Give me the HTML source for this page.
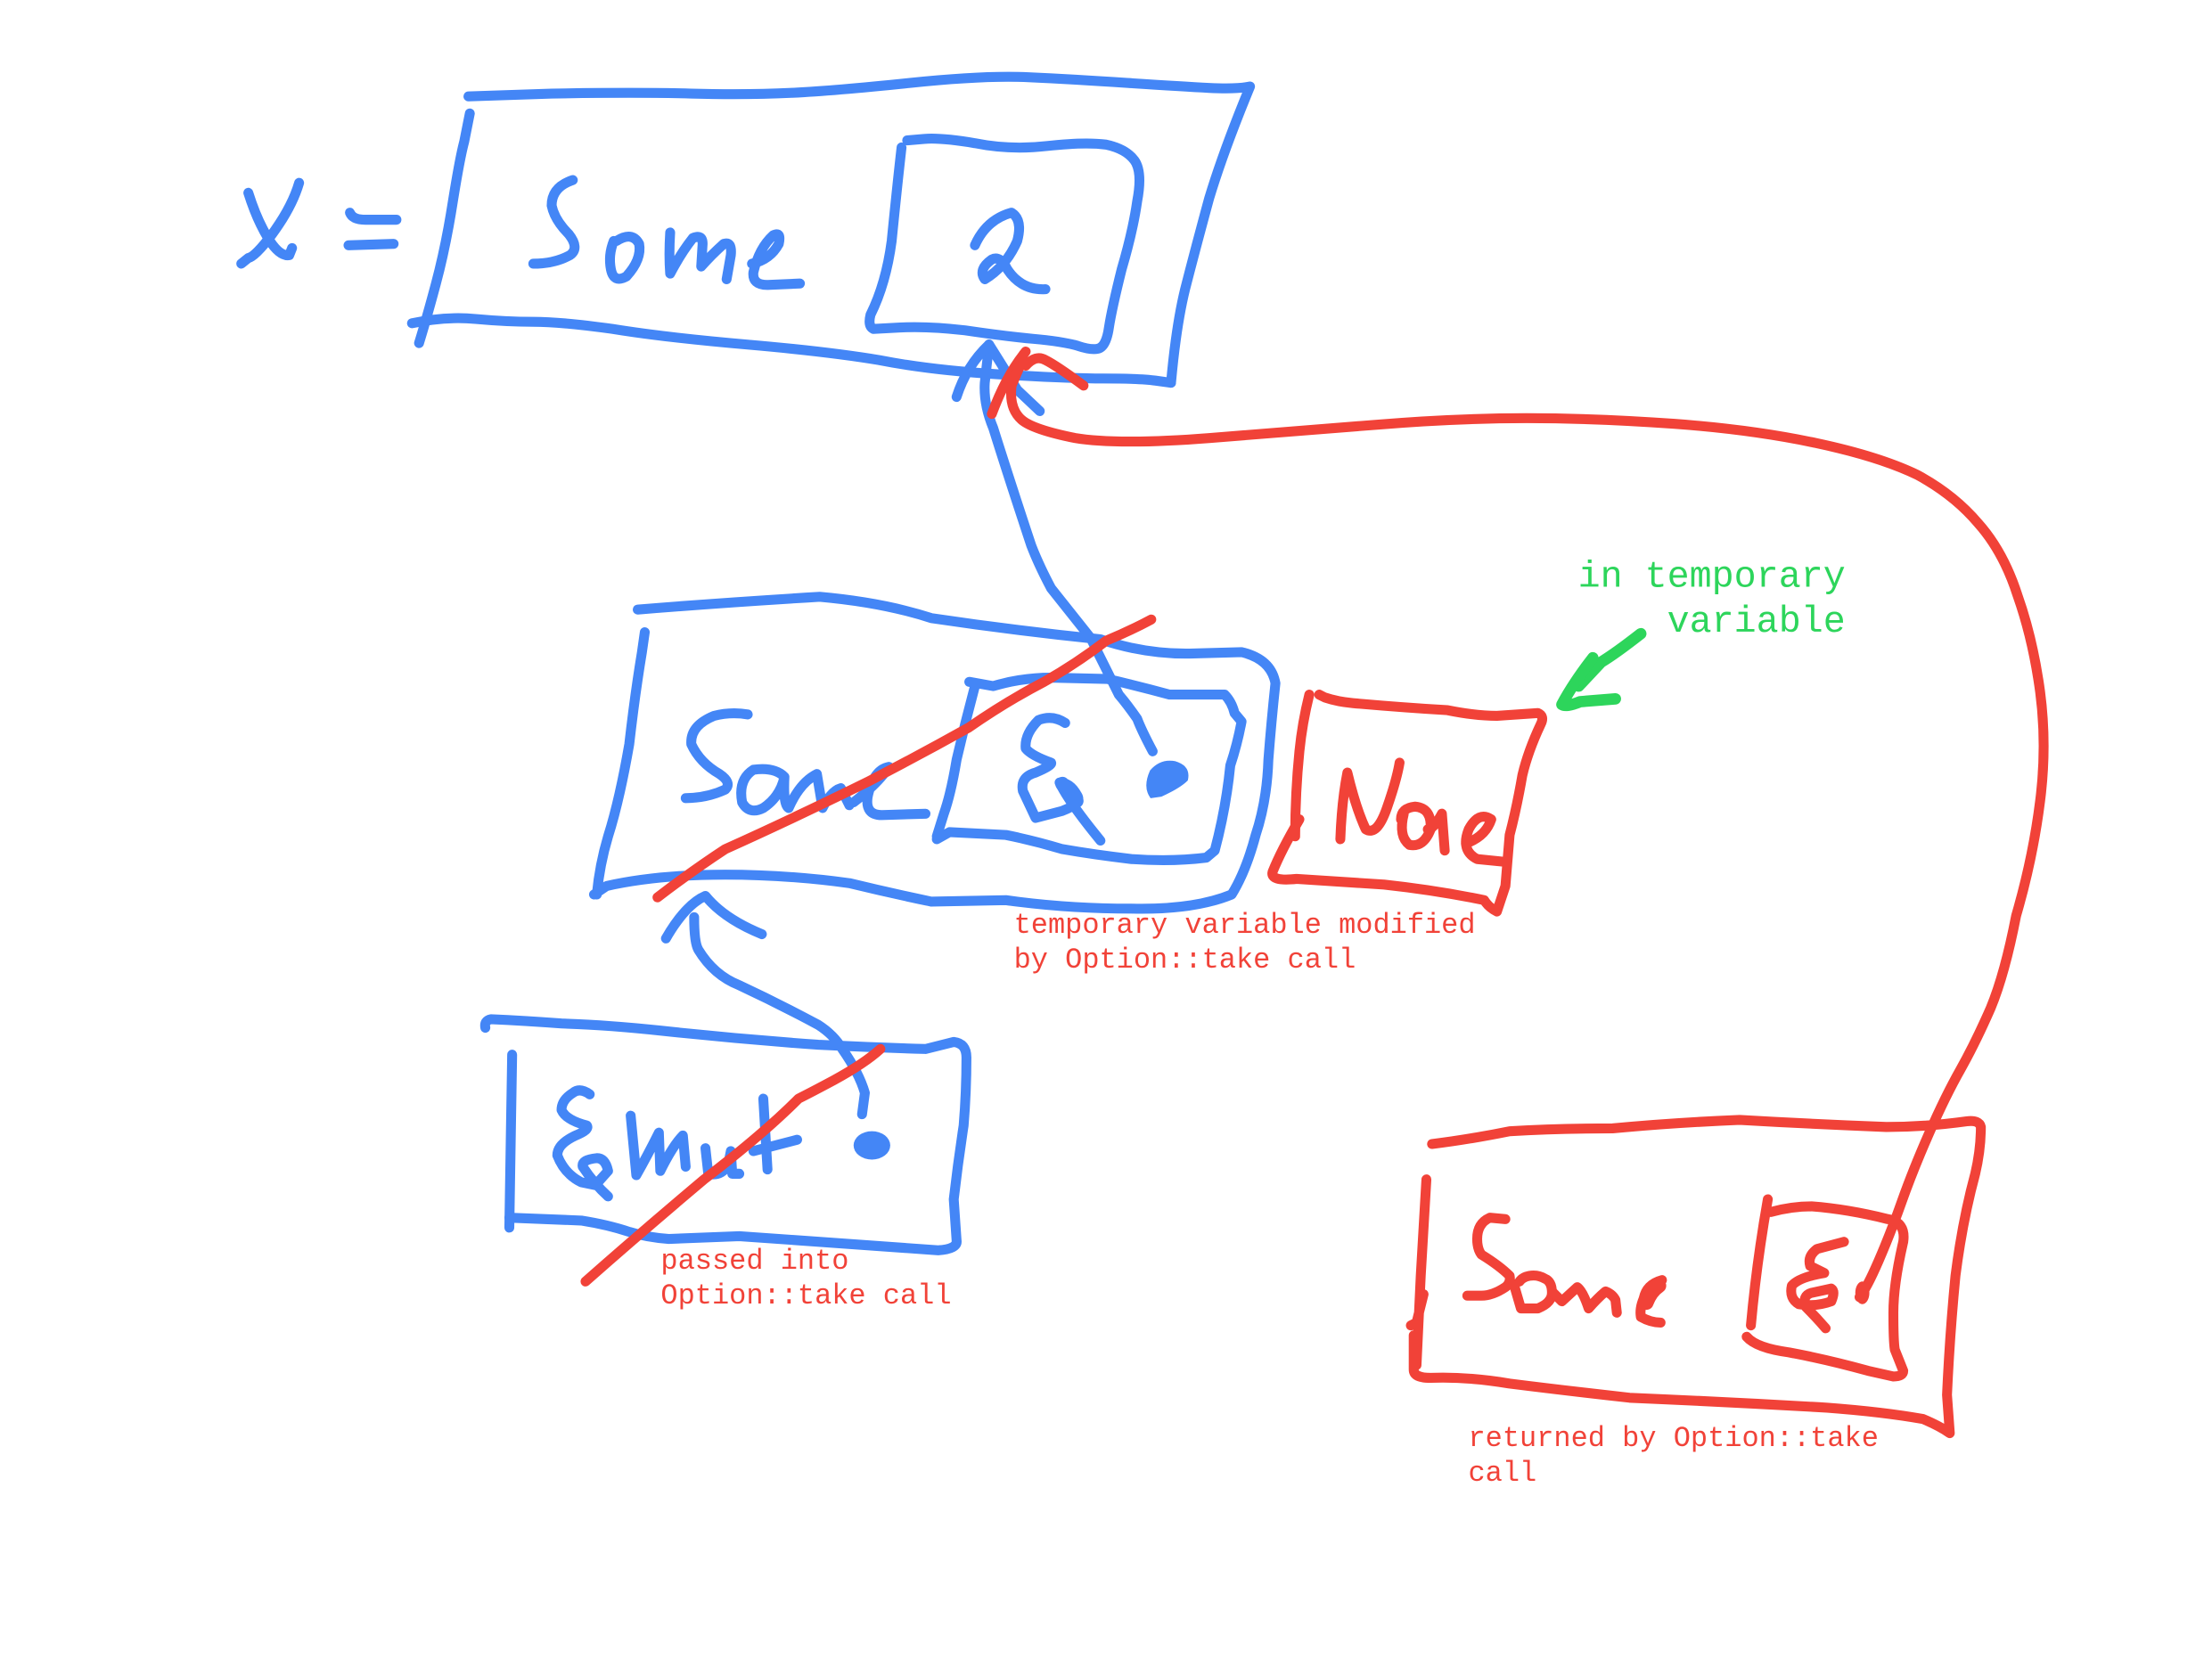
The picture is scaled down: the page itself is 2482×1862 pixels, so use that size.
<!DOCTYPE html>
<html><head><meta charset="utf-8"><style>
html,body{margin:0;padding:0;background:#fff}
svg{display:block;width:2482px;height:1862px}
.b{fill:none;stroke:#4486f6;stroke-width:7;stroke-linecap:round;stroke-linejoin:round}
.r{fill:none;stroke:#f14238;stroke-width:7;stroke-linecap:round;stroke-linejoin:round}
.g{fill:none;stroke:#2dd55b;stroke-width:8;stroke-linecap:round;stroke-linejoin:round}
text{font-family:"Liberation Mono",monospace}
</style></head><body>
<svg xmlns="http://www.w3.org/2000/svg" viewBox="0 0 1560 1170.3">
<rect width="1560" height="1171" fill="#fff"/>
<g transform="translate(1,0) scale(.995,1)">
<g class="b">
<path d="M331 68 L390 66 Q450 65 489 66 Q528 67 560 65.5 Q591 64 644 58.5 Q697 53 728 54.5 Q760 56 798 58.5 Q837 61 856 62 Q876 63 885 61 Q866 107 856 140 Q847 173 840 200 Q833 226 829 270"/>
<path d="M829 270 L818 268.5 Q808 267 781 267 Q755 267 706 264 Q658 261 622 254 Q586 248 528 243 Q470 238 433 232 Q397 227 377 227 Q358 227 336 225 Q315 223 291 228"/>
<path d="M332 80 L328 100 Q325 111 320 142 Q315 174 308 200 Q301 226 296 242"/>
<path transform="translate(3,0)" d="M639 99 L651 98 Q663 97 687 101 Q712 106 738 103 Q765 100 780 102 Q794 105 800 113 Q806 121 802 142 Q799 163 791 190 Q784 218 782 231 Q780 245 774 246 Q769 247 760 244 Q750 241 728 239 Q707 237 680 233 Q654 230 634 231 L615 232 Q611 230 613 222 Q624 200 628 170 Q632 130 635 104"/>
<path d="M175 136 Q181 155 189 168 Q197 181 204 180 L206 175"/>
<path d="M211 129 Q206 146 192 165 Q180 181 175 182 L170 186"/>
<path d="M247 150 Q249 155 258 155 L280 155"/>
<path d="M246 173 L278 172"/>
<path d="M405 127 Q390 132 390 145 Q392 155 402 165 Q410 175 403 180 Q392 186 377 186"/>
<path d="M436 170 Q447 163 452 172 Q454 183 443 195 Q434 200 432 190 Q430 180 434 170"/>
<path d="M474 164 Q473 180 474 193 Q482 178 490 168 Q497 165 497 172 L496 188 Q503 180 512 172 Q518 170 517 180 L514 197"/>
<path d="M532 186 Q545 183 551 172 Q553 163 547 166 Q537 175 533 192 Q532 201 543 201 L566 200"/>
<path d="M690 173 Q698 155 716 150 Q724 155 720 170 Q712 188 697 197 Q692 190 702 183 Q708 180 713 190 Q723 205 740 204"/>
<path d="M816 530 Q808 515 805 507 Q798 497 792 490 Q782 470 772 450 Q752 425 744 415 Q735 398 730 385 Q715 340 703 302 Q696 285 697 270 L700 243"/>
<path d="M677 280 Q684 258 700 243 Q712 262 720 275 L736 290"/>
<path d="M451 430 Q513 425 580 421 Q625 425 659 436 Q720 445 779 451 Q812 462 845 461 L879 460 Q900 465 903 482 Q900 510 898 536 Q897 565 889 589 Q882 615 872 631 Q845 642 801 641 Q755 641 712 635 L659 636 Q630 630 601 623 Q557 617 513 617 Q465 617 429 625 L420 631"/>
<path d="M456 446 L454 460 Q449 490 445 525 Q438 565 430 590 Q424 610 422 631"/>
<path d="M686 481 L703 484 Q723 478 744 478 L784 479 Q806 484 828 490 L867 490 Q872 495 874 503 L879 509 Q876 525 871 540 Q868 570 860 600 L854 605 Q830 608 801 606 Q775 603 752 599 Q732 593 712 589 L672 587 L663 592"/>
<path d="M690 484 Q683 510 677 536 Q673 560 668 574 L663 590"/>
<path d="M529 504 Q517 502 505 505 Q488 512 489 525 Q495 538 509 546 Q518 552 513 557 Q500 563 485 563"/>
<path d="M555 548 Q548 541 533 543 Q522 550 525 566 Q530 575 540 570 Q552 562 555 548 Q554 568 558 570 Q566 552 578 546 L582 570 Q588 558 595 556 L601 568 M604 566 Q622 552 629 541 Q618 543 614 562 Q612 575 624 575 L655 574"/>
<path d="M754 510 Q745 504 735 508 Q725 518 726 528 Q730 533 744 538 Q745 540 733 545 Q722 548 724 558 L733 577 L752 572 Q765 567 763 562 Q758 552 750 552 Q756 565 779 593"/>
<path d="M752 553 L762 565" stroke-width="10"/>
<path d="M471 662 Q485 638 499 632 Q512 648 539 659"/>
<path d="M491 647 Q491 665 494 670 Q505 688 523 695 Q551 708 579 723 Q590 730 596 740 Q608 757 612 771 L610 786"/>
<path d="M343 725 Q342 720 347 719 Q370 720 397 722 Q430 723 467 727 Q523 733 579 737 Q620 739 655 740 L675 735 Q684 736 684 746 Q684 770 682 794 Q678 820 675 846 L677 875 Q678 881 664 882 Q595 877 523 872 L473 874 Q458 873 445 869 Q430 864 411 861 Q385 860 360 859"/>
<path d="M362 744 L361 804 L360 866"/>
<path d="M417 772 Q410 767 405 771 Q397 776 397 783 Q400 790 415 794 Q417 797 407 801 Q394 807 394 815 Q399 828 411 834 L421 836 L430 826 Q428 817 422 817 Q411 818 412 823 Q420 835 430 844"/>
<path d="M446 787 L450 829 Q458 815 466 799 L467 826 Q476 808 483 801 L485 823"/>
<path d="M499 810 L501 828 Q510 830 515 822 L517 812 L518 828 L523 828"/>
<path d="M540 775 L543 825 M533 812 L564 804"/>
</g>
<path d="M815 562 Q810 555 815 544 Q822 536 832 538 Q842 541 840 550 Q835 555 822 561 Z" fill="#4486f6" stroke="#4486f6" stroke-width="2"/>
<ellipse cx="617" cy="808" rx="13" ry="10" fill="#4486f6"/>
<g class="r">
<path d="M702 292 Q712 265 726 248 M726 258 Q733 250 740 254 Q748 258 767 272"/>
<path d="M722 258 L716 272 Q714 288 723 296 Q731 303 761 309 Q791 314 856 309 Q921 304 976 299.5 Q1031 295 1081 295 Q1131 295 1186 299 Q1241 303 1286 312.5 Q1331 322 1358 335 Q1384 349 1401 369 Q1419 389 1429 420 Q1440 451 1445 488 Q1450 526 1445 565 Q1440 605 1428 646 Q1420 687 1410 711 Q1399 736 1388.5 754.5 Q1378 773 1366.5 799 Q1355 825 1347 847.5 Q1339 870 1330.5 889.5 Q1322 909 1317 915"/>
<path d="M815 437 Q800 445 783 452 Q762 468 739 481 Q712 495 686 513 Q650 533 615 551 Q560 578 513 599 Q490 614 465 633"/>
<path d="M623 740 Q612 750 590 762 Q575 770 565 775 Q540 800 498 832 Q455 868 414 904"/>
<g transform="translate(2,0)">
<path d="M932 490 L936 492 Q945 495 956 496 Q990 499 1023 501 Q1043 505 1058 505 L1087 503 Q1092 505 1089 511 Q1080 530 1076 547 Q1072 570 1067 589 L1064 625 L1058 643 Q1052 640 1049 635 Q1015 628 978 624 Q945 622 916 620 Q897 622 899 615 Q905 600 918 578"/>
<path d="M925 490 Q920 510 918 530 Q915 560 915 590"/>
<path d="M947 592 Q948 565 952 545 Q958 570 965 585 Q973 590 980 570 Q987 550 989 538"/>
<path d="M992 574 Q988 590 996 596 Q1006 598 1011 585 Q1012 570 1000 569 Q990 570 990 578"/>
<path d="M1009 585 Q1013 585 1019 574 L1021 600"/>
<path d="M1036 595 Q1050 590 1054 578 Q1045 572 1038 585 Q1032 600 1044 606 L1064 608"/>
</g>
<g transform="translate(4,1)">
<path d="M1010 806 Q1035 803 1065 797 Q1100 795 1138 795 Q1180 791 1228 789 Q1280 792 1332 794 Q1360 794 1389 790 Q1398 789 1399 794 Q1399 810 1395 827 Q1386 860 1381 899 Q1377 940 1375 983 L1377 1010 Q1370 1005 1358 1000 Q1330 995 1290 992 Q1220 988 1150 985 Q1105 980 1065 975 Q1035 970 1009 971 Q997 971 997 965 L997 941"/>
<path d="M1006 831 L1002 899 L999 962 M1004 912 L999 932 L995 934"/>
<path d="M1248 845 Q1240 890 1236 934"/>
<path d="M1250 854 Q1265 850 1279 850 Q1305 852 1333 859 Q1346 861 1344 875 Q1337 905 1337 925 Q1337 945 1338 951 L1344 966 Q1344 970 1337 970 Q1328 968 1319 966 Q1290 958 1263 953 Q1240 950 1233 942"/>
<path d="M1062 859 L1051 858 Q1042 862 1042 873 Q1042 880 1045 884 Q1058 892 1065 899 Q1066 904 1062 907 Q1053 913 1045 913 L1035 913"/>
<path d="M1068 905 L1073 922 L1085 922 Q1095 918 1095 911 Q1095 903 1090 901 Q1085 898 1079 899 Q1074 900 1072 903"/>
<path d="M1096 911 L1102 917 L1113 907 Q1117 910 1121 922 Q1127 915 1133 910 Q1138 912 1140 916 L1141 925"/>
<path d="M1173 902 Q1162 905 1160 915 Q1157 922 1158 928 Q1165 932 1172 932"/>
<path d="M1171 906 Q1165 910 1162 918" stroke-width="10"/>
<path d="M1302 875 L1283 880 Q1276 885 1278 892 L1288 897 Q1270 900 1265 906 Q1263 915 1270 919 Q1282 921 1293 917 Q1296 910 1293 908 L1279 911 Q1272 913 1275 921 Q1282 928 1289 936"/>
</g>
</g>
<ellipse cx="1319" cy="912" rx="5" ry="8" fill="#f14238"/>
<g class="g" transform="translate(4,0)">
<path d="M1158 447 Q1140 461 1130 467 L1114 484"/>
<path d="M1124 464 Q1110 482 1102 497 Q1105 499 1115 495 L1140 493"/>
</g>
</g>
<g fill="#f14238" font-size="20.1">
<text x="715" y="658">temporary variable modified</text>
<text x="715" y="682.5">by Option::take call</text>
<text x="466" y="895">passed into</text>
<text x="466" y="919.5">Option::take call</text>
<text x="1035.5" y="1020">returned by Option::take</text>
<text x="1035.5" y="1044.5">call</text>
</g>
<g fill="#2dd55b" font-size="26.2" text-anchor="end">
<text x="1301.5" y="414">in temporary</text>
<text x="1301.5" y="445.5">variable</text>
</g>
</svg>
</body></html>
